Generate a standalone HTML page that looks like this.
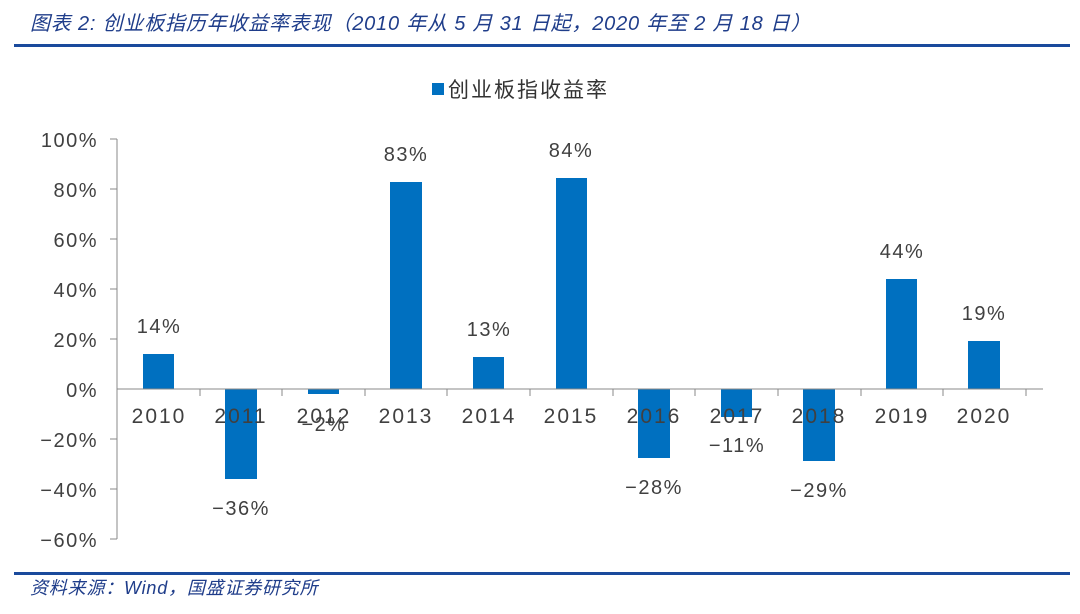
<!DOCTYPE html>
<html><head><meta charset="utf-8"><style>
body{margin:0;background:#fff;}
svg{display:block;}
text{font-family:"Liberation Sans","Noto Sans CJK SC",sans-serif;}
</style></head><body>
<svg width="1080" height="614" viewBox="0 0 1080 614" xmlns="http://www.w3.org/2000/svg">
<text x="30" y="30" font-size="20" font-style="italic" fill="#1f3d8a" letter-spacing="0.8">图表 2:  创业板指历年收益率表现（2010 年从 5 月 31 日起，2020 年至 2 月 18 日）</text>
<rect x="14" y="44" width="1056" height="3" fill="#1a4a9c"/>
<rect x="432" y="83" width="12" height="12" fill="#0070c0"/>
<text x="448" y="97" font-size="21" fill="#333" letter-spacing="2">创业板指收益率</text>
<g fill="#404040" font-size="20" text-anchor="end" letter-spacing="1.5">
<text x="98" y="147">100%</text><text x="98" y="197">80%</text><text x="98" y="247">60%</text>
<text x="98" y="297">40%</text><text x="98" y="347">20%</text><text x="98" y="397">0%</text>
<text x="98" y="447">−20%</text><text x="98" y="497">−40%</text><text x="98" y="547">−60%</text>
</g>
<g stroke="#888" stroke-width="1">
<line x1="117" y1="139" x2="117" y2="539"/>
<line x1="110" y1="139" x2="117" y2="139"/><line x1="110" y1="189" x2="117" y2="189"/><line x1="110" y1="239" x2="117" y2="239"/><line x1="110" y1="289" x2="117" y2="289"/><line x1="110" y1="339" x2="117" y2="339"/><line x1="110" y1="439" x2="117" y2="439"/><line x1="110" y1="489" x2="117" y2="489"/><line x1="110" y1="539" x2="117" y2="539"/>
</g>
<g fill="#0070c0">
<rect x="143" y="354" width="31" height="35"/>
<rect x="225" y="389" width="32" height="90"/>
<rect x="308" y="389" width="31" height="5"/>
<rect x="390" y="182" width="32" height="207"/>
<rect x="473" y="357" width="31" height="32"/>
<rect x="556" y="178" width="31" height="211"/>
<rect x="638" y="389" width="32" height="69"/>
<rect x="721" y="389" width="31" height="28"/>
<rect x="803" y="389" width="32" height="72"/>
<rect x="886" y="279" width="31" height="110"/>
<rect x="968" y="341" width="32" height="48"/>
</g>
<g stroke="#888" stroke-width="1">
<line x1="117" y1="389" x2="1043" y2="389"/>
<line x1="200" y1="389" x2="200" y2="396"/><line x1="282" y1="389" x2="282" y2="396"/><line x1="365" y1="389" x2="365" y2="396"/><line x1="447" y1="389" x2="447" y2="396"/><line x1="530" y1="389" x2="530" y2="396"/><line x1="613" y1="389" x2="613" y2="396"/><line x1="695" y1="389" x2="695" y2="396"/><line x1="778" y1="389" x2="778" y2="396"/><line x1="861" y1="389" x2="861" y2="396"/><line x1="943" y1="389" x2="943" y2="396"/><line x1="1026" y1="389" x2="1026" y2="396"/>
</g>
<g fill="#404040" font-size="21" text-anchor="middle" letter-spacing="2">
<text x="159" y="423">2010</text><text x="241" y="423">2011</text><text x="324" y="423">2012</text><text x="406" y="423">2013</text><text x="489" y="423">2014</text><text x="571" y="423">2015</text><text x="654" y="423">2016</text><text x="737" y="423">2017</text><text x="819" y="423">2018</text><text x="902" y="423">2019</text><text x="984" y="423">2020</text>
</g>
<g fill="#404040" font-size="20" text-anchor="middle" letter-spacing="1.5">
<text x="159" y="333">14%</text><text x="241" y="515">−36%</text><text x="324" y="431">−2%</text><text x="406" y="161">83%</text><text x="489" y="336">13%</text><text x="571" y="157">84%</text><text x="654" y="494">−28%</text><text x="737" y="452">−11%</text><text x="819" y="497">−29%</text><text x="902" y="258">44%</text><text x="984" y="320">19%</text>
</g>
<rect x="14" y="572" width="1056" height="3" fill="#1a4a9c"/>
<text x="30" y="594" font-size="18" font-style="italic" fill="#1f3d8a" letter-spacing="0.8">资料来源：Wind，国盛证券研究所</text>
</svg>
</body></html>
